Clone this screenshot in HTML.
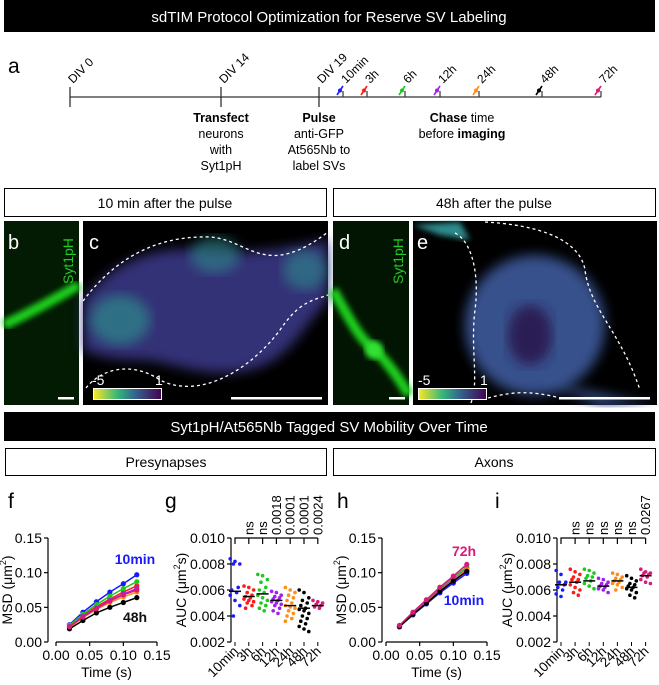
<!DOCTYPE html>
<html><head><meta charset="utf-8">
<style>
html,body{margin:0;padding:0;background:#fff;}
svg{display:block;font-family:"Liberation Sans",sans-serif;}
</style></head>
<body>
<svg id="fig" width="659" height="685" viewBox="0 0 659 685" xmlns="http://www.w3.org/2000/svg">
<defs>
<linearGradient id="viridis" x1="0" x2="1" y1="0" y2="0">
<stop offset="0" stop-color="#fde725"/><stop offset="0.35" stop-color="#35b779"/><stop offset="0.6" stop-color="#31688e"/><stop offset="1" stop-color="#440154"/>
</linearGradient>
<filter id="blur3"><feGaussianBlur stdDeviation="3"/></filter>
<filter id="blur6"><feGaussianBlur stdDeviation="6"/></filter>
</defs>

<rect x="4" y="0" width="651" height="32" fill="#000"/>
<text x="329" y="22" fill="#fff" font-size="15" text-anchor="middle">sdTIM Protocol Optimization for Reserve SV Labeling</text>

<g id="timeline"></g>

<rect x="4.5" y="188.5" width="322" height="28" fill="#fff" stroke="#000"/>
<text x="165" y="208" font-size="14" text-anchor="middle">10 min after the pulse</text>
<rect x="333.5" y="188.5" width="322" height="28" fill="#fff" stroke="#000"/>
<text x="494" y="208" font-size="14" text-anchor="middle">48h after the pulse</text>

<g>
<rect x="4" y="221" width="75" height="184" fill="#031a03"/>
<path d="M4 325 C25 315 45 305 79 285" stroke="#1fd01f" stroke-width="10" fill="none" filter="url(#blur3)"/>
<text x="8" y="249" fill="#fff" font-size="20">b</text>
<text transform="translate(73,284) rotate(-90)" fill="#22cc22" font-size="14">Syt1pH</text>
<rect x="58" y="397" width="16" height="2.5" fill="#fff"/>
</g>
<g>
<rect x="83" y="221" width="245" height="184" fill="#000"/>
<path d="M83 300 C110 265 150 245 200 250 C240 255 280 250 328 240 L328 300 C300 330 290 360 250 370 C200 380 170 360 140 360 C110 360 95 355 83 350 Z" fill="#3d3a8c" opacity="0.85" filter="url(#blur6)"/>
<ellipse cx="120" cy="320" rx="30" ry="25" fill="#2f8a8c" opacity="0.7" filter="url(#blur6)"/>
<ellipse cx="215" cy="255" rx="25" ry="18" fill="#2f8a8c" opacity="0.6" filter="url(#blur6)"/>
<ellipse cx="305" cy="270" rx="22" ry="20" fill="#2f8a8c" opacity="0.6" filter="url(#blur6)"/>
<path d="M83 301 C110 265 150 235 210 237 C250 240 265 280 328 232" stroke="#fff" stroke-width="1.3" stroke-dasharray="3 3" fill="none"/>
<path d="M86 388 C100 370 130 360 160 380 C200 400 250 370 280 330 C300 300 315 300 328 295" stroke="#fff" stroke-width="1.3" stroke-dasharray="3 3" fill="none"/>
<text x="89" y="249" fill="#fff" font-size="20">c</text>
<rect x="93.5" y="388.5" width="68" height="11" fill="url(#viridis)" stroke="#fff"/>
<text x="92" y="385" fill="#fff" font-size="14">-5</text>
<text x="155" y="385" fill="#fff" font-size="14">1</text>
<rect x="231" y="397" width="91" height="2.5" fill="#fff"/>
</g>
<g>
<rect x="333" y="221" width="76" height="184" fill="#021502"/>
<path d="M333 290 C350 320 360 340 375 350 C390 365 400 380 409 395" stroke="#1fd01f" stroke-width="10" fill="none" filter="url(#blur3)"/>
<circle cx="374" cy="350" r="9" fill="#30e030" filter="url(#blur3)"/>
<text x="339" y="249" fill="#fff" font-size="20">d</text>
<text transform="translate(403,284) rotate(-90)" fill="#22cc22" font-size="14">Syt1pH</text>
<rect x="389" y="397" width="16" height="2.5" fill="#fff"/>
</g>
<g>
<rect x="413" y="221" width="244" height="184" fill="#000"/>
<path d="M413 225 L460 222 L470 240 L440 235 Z" fill="#2f8a8c" filter="url(#blur3)"/>
<ellipse cx="535" cy="325" rx="70" ry="70" fill="#3d5a9c" opacity="0.9" filter="url(#blur6)"/>
<ellipse cx="530" cy="335" rx="22" ry="30" fill="#2a1a55" filter="url(#blur6)"/>
<path d="M540 380 C580 390 620 400 657 405 L600 405 Z" fill="#3d5a9c" filter="url(#blur6)"/>
<path d="M455 233 C470 240 480 270 475 310 C470 350 480 385 470 405" stroke="#fff" stroke-width="1.3" stroke-dasharray="3 3" fill="none"/>
<path d="M485 222 C540 225 580 240 585 270 C590 310 620 330 640 390" stroke="#fff" stroke-width="1.3" stroke-dasharray="3 3" fill="none"/>
<path d="M488 398 C510 392 530 390 560 398" stroke="#fff" stroke-width="1.3" stroke-dasharray="3 3" fill="none"/>
<text x="417" y="249" fill="#fff" font-size="20">e</text>
<rect x="418.5" y="388.5" width="68" height="11" fill="url(#viridis)" stroke="#fff"/>
<text x="418" y="385" fill="#fff" font-size="14">-5</text>
<text x="480" y="385" fill="#fff" font-size="14">1</text>
<rect x="559" y="397" width="91" height="2.5" fill="#fff"/>
</g>

<rect x="4" y="412" width="651" height="29" fill="#000"/>
<text x="329" y="432" fill="#fff" font-size="15" text-anchor="middle">Syt1pH/At565Nb Tagged SV Mobility Over Time</text>
<rect x="5.5" y="448.5" width="321" height="27" fill="#fff" stroke="#000"/>
<text x="166" y="467" font-size="14" text-anchor="middle">Presynapses</text>
<rect x="333.5" y="448.5" width="322" height="27" fill="#fff" stroke="#000"/>
<text x="494" y="467" font-size="14" text-anchor="middle">Axons</text>

<g id="charts"></g>
</svg>

<script>
var tlLabels = ["DIV 0","DIV 14","DIV 19"];
var tlX = [70,221,319];
var chaseLabels = ["10min","3h","6h","12h","24h","48h","72h"];
var chaseX = [343,367,405,440,479,542,601];
var groupColors = ["#1a1aff","#ff1a1a","#1ec81e","#a020f0","#ff8c1a","#000000","#d81b78"];

var msdTimes = [0.02,0.04,0.06,0.08,0.10,0.12];
var msdPre10min = [0.025,0.043,0.058,0.072,0.084,0.097];
var msdPre3h = [0.023,0.038,0.051,0.062,0.072,0.081];
var msdPre6h = [0.024,0.040,0.054,0.066,0.077,0.087];
var msdPre12h = [0.022,0.037,0.049,0.060,0.069,0.077];
var msdPre24h = [0.021,0.035,0.047,0.057,0.065,0.072];
var msdPre48h = [0.019,0.031,0.042,0.050,0.057,0.064];
var msdPre72h = [0.022,0.036,0.048,0.059,0.068,0.075];
var msdAx10min = [0.022,0.039,0.055,0.071,0.085,0.099];
var msdAx3h = [0.023,0.041,0.057,0.074,0.088,0.102];
var msdAx6h = [0.023,0.042,0.060,0.077,0.093,0.108];
var msdAx12h = [0.022,0.041,0.058,0.075,0.090,0.105];
var msdAx24h = [0.022,0.040,0.057,0.074,0.089,0.104];
var msdAx48h = [0.022,0.040,0.056,0.073,0.088,0.102];
var msdAx72h = [0.024,0.043,0.061,0.079,0.095,0.112];
var msdTicks = [0.00,0.05,0.10,0.15];
var msdTickLabels = ["0.00","0.05","0.10","0.15"];

var aucCats = ["10min","3h","6h","12h","24h","48h","72h"];
var aucTicks = [0.002,0.004,0.006,0.008,0.010];
var aucTickLabels = ["0.002","0.004","0.006","0.008","0.010"];
var aucPre10min = [0.0084,0.0082,0.0080,0.0080,0.0062,0.0060,0.0058,0.0056,0.0052,0.0048,0.0040];
var aucPre3h = [0.0063,0.0062,0.0060,0.0058,0.0056,0.0055,0.0054,0.0053,0.0052,0.0051,0.0050,0.0048,0.0046];
var aucPre6h = [0.0072,0.0071,0.0068,0.0066,0.0062,0.0060,0.0058,0.0056,0.0054,0.0052,0.0050,0.0048,0.0046,0.0044];
var aucPre12h = [0.0059,0.0058,0.0056,0.0055,0.0054,0.0053,0.0052,0.0051,0.0050,0.0049,0.0048,0.0046,0.0044,0.0042];
var aucPre24h = [0.0062,0.0060,0.0058,0.0056,0.0054,0.0052,0.0050,0.0048,0.0047,0.0046,0.0044,0.0042,0.0040,0.0038,0.0036];
var aucPre48h = [0.0060,0.0058,0.0054,0.0052,0.0050,0.0048,0.0046,0.0045,0.0044,0.0042,0.0040,0.0038,0.0036,0.0034,0.0032,0.0030,0.0028];
var aucPre72h = [0.0052,0.0051,0.0050,0.0049,0.0048,0.0047,0.0046];
var aucPreMed = [0.0059,0.0055,0.0057,0.0052,0.0048,0.0046,0.0048];
var aucPreP = ["","ns","ns","0.0018","0.0001","0.0001","0.0024"];
var aucAx10min = [0.0075,0.0072,0.0066,0.0066,0.0064,0.0062,0.0060,0.0057,0.0055];
var aucAx3h = [0.0076,0.0074,0.0072,0.0070,0.0068,0.0068,0.0066,0.0064,0.0062,0.0060,0.0058,0.0056];
var aucAx6h = [0.0076,0.0075,0.0073,0.0071,0.0070,0.0069,0.0067,0.0065,0.0063,0.0061];
var aucAx12h = [0.0069,0.0068,0.0066,0.0065,0.0064,0.0063,0.0062,0.0061,0.0060,0.0058];
var aucAx24h = [0.0073,0.0072,0.0070,0.0069,0.0068,0.0067,0.0066,0.0065,0.0064,0.0062,0.0060];
var aucAx48h = [0.0071,0.0069,0.0067,0.0065,0.0064,0.0063,0.0062,0.0061,0.0060,0.0058,0.0056,0.0054];
var aucAx72h = [0.0076,0.0074,0.0073,0.0073,0.0072,0.0071,0.0070,0.0068,0.0066,0.0065];
var aucAxMed = [0.0064,0.0066,0.0067,0.0063,0.0067,0.0062,0.0071];
var aucAxP = ["","ns","ns","ns","ns","ns","0.0267"];

var NS = "http://www.w3.org/2000/svg";
function mk(parent, tag, attrs, txt) {
  var e = document.createElementNS(NS, tag);
  for (var k in attrs) e.setAttribute(k, attrs[k]);
  if (txt !== undefined) e.textContent = txt;
  parent.appendChild(e);
  return e;
}

var tl = document.getElementById("timeline");
var t;
t = mk(tl, "text", {x: 8, y: 73, "font-size": 21}, "a");


var ln = mk(tl, "line", {x1: 70, x2: 601, y1: 97, y2: 97, stroke: "#333", "stroke-width": 1.3});


tlLabels.forEach(function (lab, i) {
  var x = tlX[i];
  var tk = mk(tl, "line", {x1: x, x2: x, y1: 87, y2: 107, stroke: "#333", "stroke-width": 1.3});
  
  
  var tt = mk(tl, "text", {transform: "translate(" + (x + 3) + ",84) rotate(-45)", "font-size": 12}, lab);
  
  
});
chaseLabels.forEach(function (lab, i) {
  var x = chaseX[i];
  var tk = mk(tl, "line", {x1: x, x2: x, y1: 91, y2: 97, stroke: "#333", "stroke-width": 1.2});
  
  
  var mkr = mk(tl, "line", {x1: x - 6, x2: x, y1: 95, y2: 86, stroke: groupColors[i], "stroke-width": 1.6});
  
  
  var dot = mk(tl, "circle", {cx: x - 3, cy: 90.5, r: 2, fill: groupColors[i]});
  
  
  var tt = mk(tl, "text", {transform: "translate(" + (x + 3) + ",84) rotate(-45)", "font-size": 12}, lab);
  
  
});
function tlText(x, y, html, nm) {
  var e = mk(tl, "text", {x: x, y: y, "font-size": 12.5, "text-anchor": "middle"});
  e.innerHTML = html;
  
  
}
tlText(221, 122, '<tspan font-weight="bold">Transfect</tspan>', 'transfect-label');
tlText(221, 138, 'neurons', 'transfect-desc');
tlText(221, 154, 'with', 'transfect-desc');
tlText(221, 170, 'Syt1pH', 'transfect-desc');
tlText(319, 122, '<tspan font-weight="bold">Pulse</tspan>', 'pulse-label');
tlText(319, 138, 'anti-GFP', 'pulse-desc');
tlText(319, 154, 'At565Nb to', 'pulse-desc');
tlText(319, 170, 'label SVs', 'pulse-desc');
tlText(462, 122, '<tspan font-weight="bold">Chase</tspan> time', 'chase-label-title');
tlText(462, 138, 'before <tspan font-weight="bold">imaging</tspan>', 'chase-desc');

var ch = document.getElementById("charts");
var Y0 = 642, YT = 538;

function panelLabel(x, txt) {
  var e = mk(ch, "text", {x: x, y: 508, "font-size": 21}, txt);
  
  
}

function yAxis(g, axX, ticks, labels, ymin, ymax, title, titleX) {
  var sy = function (v) { return Y0 - (v - ymin) / (ymax - ymin) * (Y0 - YT); };
  var a = mk(g, "line", {x1: axX, x2: axX, y1: YT, y2: Y0, stroke: "#000", "stroke-width": 1.2});
  
  
  ticks.forEach(function (v, i) {
    var y = sy(v);
    var tk = mk(g, "line", {x1: axX - 4, x2: axX, y1: y, y2: y, stroke: "#000", "stroke-width": 1.2});
    
    
    var tt = mk(g, "text", {x: axX - 6, y: y + 5, "font-size": 14, "text-anchor": "end"}, labels[i]);
    
    
  });
  var ttl = mk(g, "text", {transform: "translate(" + titleX + "," + ((Y0 + YT) / 2) + ") rotate(-90)", "font-size": 14, "text-anchor": "middle"});
  ttl.innerHTML = title;
  
  
  return sy;
}

function msdChart(axX, x0, series, topLab, topCol, topY, botLab, botCol, botY, labX) {
  var g = mk(ch, "g", {});
  
  
  var sy = yAxis(g, axX, msdTicks, msdTickLabels, 0, 0.15, 'MSD (μm<tspan font-size="9" dy="-6">2</tspan><tspan dy="6">)</tspan>', axX - 36);
  var sx = function (v) { return x0 + v / 0.15 * 101; };
  var xa = mk(g, "line", {x1: sx(0), x2: sx(0.15), y1: Y0, y2: Y0, stroke: "#000", "stroke-width": 1.2});
  
  
  msdTicks.forEach(function (v, i) {
    var x = sx(v);
    var tk = mk(g, "line", {x1: x, x2: x, y1: Y0, y2: Y0 + 4, stroke: "#000", "stroke-width": 1.2});
    
    
    var tt = mk(g, "text", {x: x, y: Y0 + 18, "font-size": 14, "text-anchor": "middle"}, msdTickLabels[i]);
    
    
  });
  var xt = mk(g, "text", {x: sx(0.075), y: 677, "font-size": 14, "text-anchor": "middle"}, "Time (s)");
  
  
  series.forEach(function (s, si) {
    var pts = msdTimes.map(function (tv, k) { return sx(tv) + "," + sy(s[k]); }).join(" ");
    var pl = mk(g, "polyline", {points: pts, fill: "none", stroke: groupColors[si], "stroke-width": 1.5});
    
    
    msdTimes.forEach(function (tv, k) {
      var c = mk(g, "circle", {cx: sx(tv), cy: sy(s[k]), r: 2.6, fill: groupColors[si]});
      
      
    });
  });
  var l1 = mk(g, "text", {x: labX, y: topY, "font-size": 14, "font-weight": "bold", fill: topCol, "text-anchor": "middle"}, topLab);
  
  
  var l2 = mk(g, "text", {x: labX, y: botY, "font-size": 14, "font-weight": "bold", fill: botCol, "text-anchor": "middle"}, botLab);
  
  
}

function aucChart(axX, catX0, catStep, groups, meds, pvals) {
  var g = mk(ch, "g", {});
  
  
  var sy = yAxis(g, axX, aucTicks, aucTickLabels, 0.002, 0.010, 'AUC (μm<tspan font-size="9" dy="-6">2</tspan><tspan dy="6">s)</tspan>', axX - 45);
  var cx = function (i) { return catX0 + i * catStep; };
  aucCats.forEach(function (cat, i) {
    var x = cx(i);
    var tk = mk(g, "line", {x1: x, x2: x, y1: Y0, y2: Y0 + 4, stroke: "#000", "stroke-width": 1});
    
    
    var tt = mk(g, "text", {transform: "translate(" + (x + 4) + "," + (Y0 + 10) + ") rotate(-45)", "font-size": 13.5, "text-anchor": "end"}, cat);
    
    
    groups[i].forEach(function (v, k) {
      var dx = ((k * 3) % 7 - 3) * 1.6;
      var c = mk(g, "circle", {cx: x + dx, cy: sy(v), r: 1.8, fill: groupColors[i]});
      
      
    });
    var m = mk(g, "line", {x1: x - 6, x2: x + 6, y1: sy(meds[i]), y2: sy(meds[i]), stroke: "#000", "stroke-width": 1.5});
    
    
    if (i > 0) {
      var bt = mk(g, "line", {x1: x, x2: x, y1: 538, y2: 544, stroke: "#000", "stroke-width": 1.2});
      
      
      var pt = mk(g, "text", {transform: "translate(" + (x + 4.5) + ",535) rotate(-90)", "font-size": 13}, pvals[i]);
      
      
    }
  });
  var br = mk(g, "polyline", {points: cx(0) + ",544 " + cx(0) + ",538 " + cx(6) + ",538", fill: "none", stroke: "#000", "stroke-width": 1.2});
  
  
}

panelLabel(8, "f");
panelLabel(165, "g");
panelLabel(337, "h");
panelLabel(495, "i");

msdChart(48, 56, [msdPre10min, msdPre3h, msdPre6h, msdPre12h, msdPre24h, msdPre48h, msdPre72h],
  "10min", "#1a1aff", 564, "48h", "#111", 622, 135);
msdChart(382, 386, [msdAx10min, msdAx3h, msdAx6h, msdAx12h, msdAx24h, msdAx48h, msdAx72h],
  "72h", "#d81b78", 556, "10min", "#1a1aff", 605, 464);
aucChart(231, 235, 13.8, [aucPre10min, aucPre3h, aucPre6h, aucPre12h, aucPre24h, aucPre48h, aucPre72h], aucPreMed, aucPreP);
aucChart(557, 561, 14.1, [aucAx10min, aucAx3h, aucAx6h, aucAx12h, aucAx24h, aucAx48h, aucAx72h], aucAxMed, aucAxP);
</script>
</body></html>
